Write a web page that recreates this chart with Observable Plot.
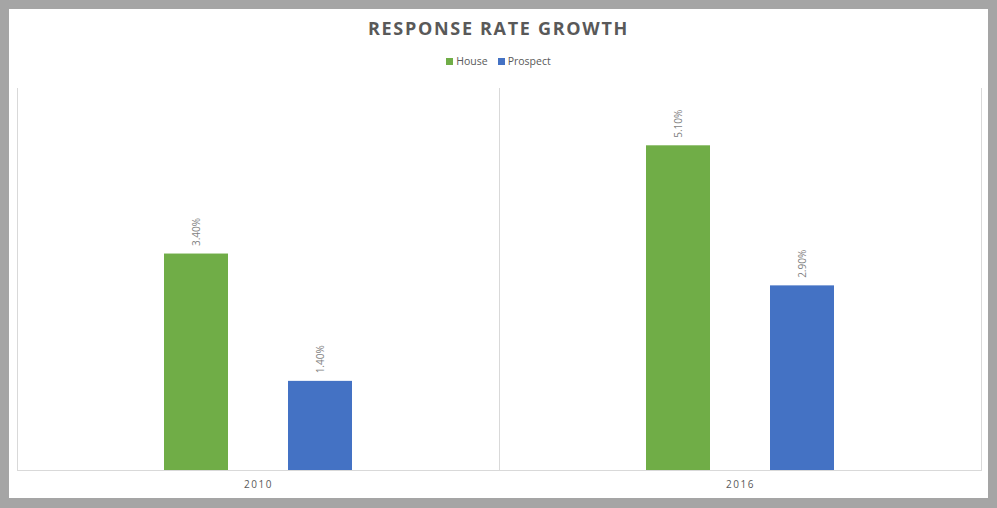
<!DOCTYPE html>
<html>
<head>
<meta charset="utf-8">
<script src="https://cdn.jsdelivr.net/npm/d3@7"></script>
<script src="https://cdn.jsdelivr.net/npm/@observablehq/plot@0.6"></script>
<style>
  html, body { margin: 0; padding: 0; }
  body { width: 997px; height: 508px; background: #a5a5a5; position: relative; overflow: hidden; font-family: "Open Sans", sans-serif; }
  #panel { position: absolute; left: 9px; top: 9px; width: 979px; height: 489px; background: #fff; }
  #title { position: absolute; left: 0; top: 15px; width: 997px; text-align: center; font-weight: 700; font-size: 18px; letter-spacing: 1.7px; color: #595959; line-height: 26px; }
  #legend { position: absolute; left: 0; top: 53px; width: 997px; display: flex; justify-content: center; gap: 10px; font-size: 10.5px; color: #595959; line-height: 16px; }
  #legend span.item { display: flex; align-items: center; }
  #legend span.sw { display: inline-block; width: 7px; height: 7px; margin-right: 3px; }
  #chart { position: absolute; left: 0; top: 80px; }
  #chart svg [aria-label="fx-axis tick label"] text { letter-spacing: 1.5px; }
</style>
</head>
<body>
<div id="panel"></div>
<div id="title">RESPONSE RATE GROWTH</div>
<div id="legend"></div>
<div id="chart"></div>
<script>
const years = ["2010", "2016"];
const series = ["House", "Prospect"];
const house = [3.4, 5.1];
const prospect = [1.4, 2.9];
const colors = ["#70ad47", "#4472c4"];

const data = [];
years.forEach((yr, i) => {
  data.push({ year: yr, series: "House", value: house[i] });
  data.push({ year: yr, series: "Prospect", value: prospect[i] });
});

const legend = document.getElementById("legend");
series.forEach((s, i) => {
  const it = document.createElement("span");
  it.className = "item";
  it.innerHTML = `<span class="sw" style="background:${colors[i]}"></span>${s}`;
  legend.appendChild(it);
});

const chart = Plot.plot({
  width: 997,
  height: 420,
  marginTop: 8,
  marginBottom: 30,
  marginLeft: 16,
  marginRight: 16,
  style: { fontFamily: "Open Sans, sans-serif", background: "transparent", overflow: "visible" },
  fx: { domain: years, padding: 0, label: null },
  x: { domain: series, paddingInner: 0.48, paddingOuter: 1.17, axis: null },
  y: { domain: [0, 6], axis: null },
  color: { domain: series, range: colors },
  marks: [
    Plot.frame({ anchor: "left", stroke: "#d9d9d9", strokeOpacity: 1 }),
    Plot.frame({ anchor: "right", stroke: "#d9d9d9", strokeOpacity: 1 }),
    Plot.frame({ anchor: "bottom", stroke: "#d9d9d9", strokeOpacity: 1 }),
    Plot.barY(data, { fx: "year", x: "series", y: "value", fill: "series" }),
    Plot.text(data, {
      fx: "year", x: "series", y: "value",
      text: d => d.value.toFixed(2) + "%",
      rotate: -90, textAnchor: "start", dy: -8,
      fill: "#7f7f7f", fontSize: 10
    }),
    Plot.axisFx({ anchor: "bottom", tickSize: 0, tickPadding: 10, fontSize: 10, color: "#595959", label: null })
  ]
});
document.getElementById("chart").appendChild(chart);
</script>
</body>
</html>
